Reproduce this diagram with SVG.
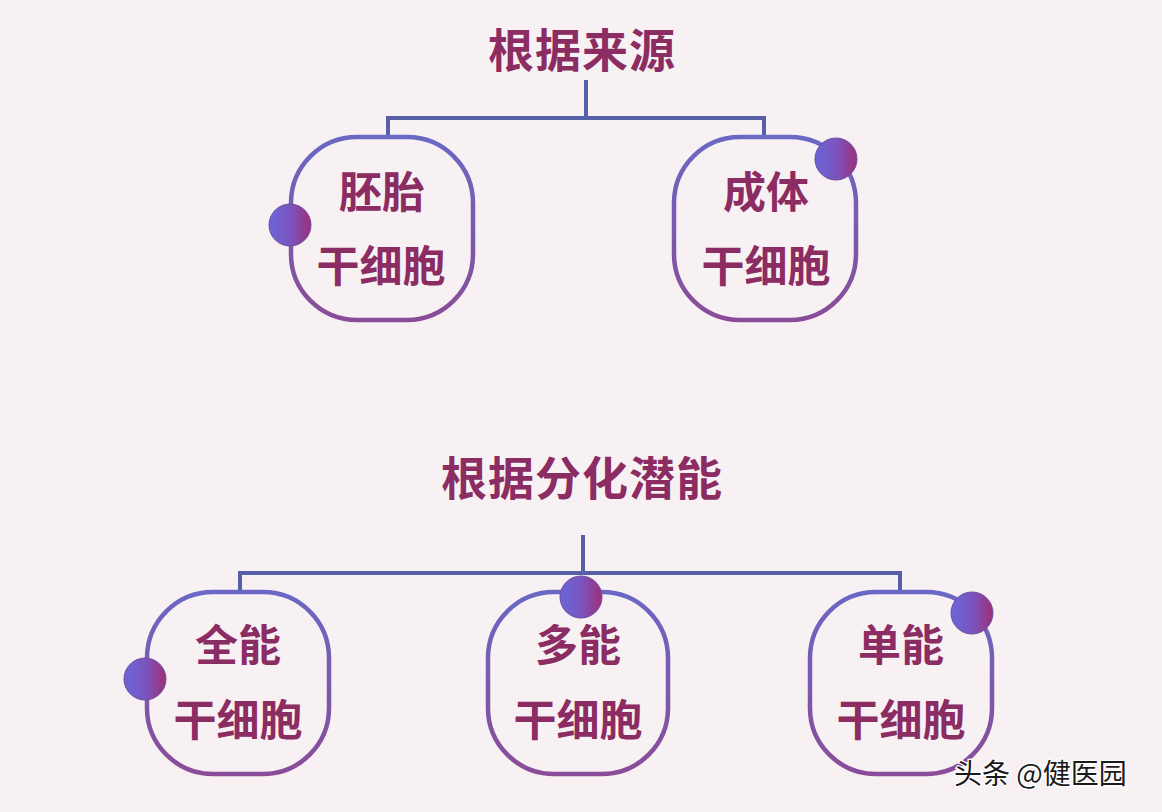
<svg xmlns="http://www.w3.org/2000/svg" width="1162" height="812" viewBox="0 0 1162 812">
<defs>
<linearGradient id="boxStroke" x1="0" y1="0" x2="0" y2="1">
<stop offset="0" stop-color="#6a68c4"/>
<stop offset="1" stop-color="#8a4c98"/>
</linearGradient>
<linearGradient id="dotFill" x1="0" y1="0" x2="1" y2="0">
<stop offset="0" stop-color="#6a66d8"/>
<stop offset="0.5" stop-color="#7a55c0"/>
<stop offset="1" stop-color="#9c2f78"/>
</linearGradient>
<style>
.box{fill:#f8f1f4;stroke:url(#boxStroke);stroke-width:4.5}
.dot{fill:url(#dotFill);stroke:#6e4c9e;stroke-width:1}
.title{font-family:"Noto Sans CJK SC","Noto Sans CJK JP",sans-serif;font-weight:700;font-size:46px;fill:#8b2c62;text-anchor:middle;dominant-baseline:central;letter-spacing:1px}
.lbl{font-family:"Noto Sans CJK SC","Noto Sans CJK JP",sans-serif;font-weight:700;font-size:43px;fill:#8b2c62;text-anchor:middle;dominant-baseline:central}
.conn{fill:none;stroke:#5560a8;stroke-width:4;stroke-linejoin:miter}
.wm{font-family:"Noto Sans CJK SC",sans-serif;font-size:28px;fill:#1a1a1a;stroke:#ffffff;stroke-width:2.5;paint-order:stroke}
</style>
</defs>
<rect width="1162" height="812" fill="#f8f1f4"/>

<g id="connectors">
<path class="conn" d="M586 80 V118 M388 139 V118 H764 V139"/>
<path class="conn" d="M583 535 V573 M240 593 V573 H900 V593"/>
</g>

<g id="title-source">
<text class="title" x="582" y="47">根据来源</text>
</g>

<g id="node-embryonic">
<rect class="box" x="291" y="137" width="182" height="183" rx="66" ry="66"/>
<circle class="dot" cx="290" cy="225" r="21"/>
<text class="lbl" x="382" y="189">胚胎</text>
<text class="lbl" x="381" y="263">干细胞</text>
</g>

<g id="node-adult">
<rect class="box" x="674" y="137" width="182" height="183" rx="66" ry="66"/>
<circle class="dot" cx="836" cy="159" r="21"/>
<text class="lbl" x="766" y="189">成体</text>
<text class="lbl" x="766" y="263">干细胞</text>
</g>

<g id="title-potency">
<text class="title" x="582" y="475">根据分化潜能</text>
</g>

<g id="node-totipotent">
<rect class="box" x="147" y="592" width="182" height="182" rx="66" ry="66"/>
<circle class="dot" cx="145" cy="679" r="21"/>
<text class="lbl" x="238" y="642">全能</text>
<text class="lbl" x="238" y="717">干细胞</text>
</g>

<g id="node-pluripotent">
<rect class="box" x="488" y="592" width="180" height="182" rx="66" ry="66"/>
<circle class="dot" cx="581" cy="597" r="21"/>
<text class="lbl" x="578" y="642">多能</text>
<text class="lbl" x="578" y="717">干细胞</text>
</g>

<g id="node-unipotent">
<rect class="box" x="810" y="592" width="182" height="182" rx="66" ry="66"/>
<circle class="dot" cx="972" cy="613" r="21"/>
<text class="lbl" x="901" y="642">单能</text>
<text class="lbl" x="901" y="717">干细胞</text>
</g>

<g id="watermark">
<text class="wm" x="954" y="784">头条 @健医园</text>
</g>
</svg>
